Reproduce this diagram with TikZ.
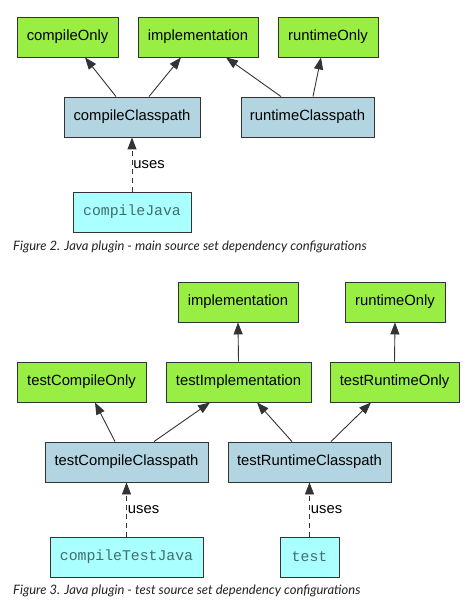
\documentclass[tikz,border=0pt]{standalone}
\usepackage{fontspec}
\setmainfont{Liberation Sans}
\newfontfamily\monofont{Liberation Mono}
\newfontfamily\capfont{Lato Italic}
\usetikzlibrary{arrows.meta}
\definecolor{cfgreen}{HTML}{99EE44}
\definecolor{cfblue}{HTML}{B2D5E1}
\definecolor{cfcyan}{HTML}{AAFFFF}
\definecolor{cfline}{HTML}{333333}
\definecolor{cfmono}{HTML}{3F6F6F}
\definecolor{cfcap}{HTML}{222222}
\tikzset{
  cfgbox/.style={draw=cfline, line width=0.9pt, rectangle, minimum height=40pt, inner sep=0pt, font=\fontsize{14.8}{16}\selectfont},
  depbox/.style={cfgbox, fill=cfgreen},
  cpbox/.style={cfgbox, fill=cfblue},
  taskbox/.style={cfgbox, fill=cfcyan, font=\monofont\fontsize{14.8}{16}\selectfont, text=cfmono},
  arr/.style={draw=cfline, line width=0.9pt, -{Triangle[length=12pt,width=9pt]}},
  usearr/.style={arr, dash pattern=on 5pt off 4pt},
  uselbl/.style={anchor=west, inner sep=0pt, font=\fontsize{14.8}{16}\selectfont},
  captxt/.style={anchor=west, inner sep=0pt, font=\capfont\fontsize{13}{15}\selectfont, text=cfcap}
}
\begin{document}
\begin{tikzpicture}[x=1pt,y=-1pt]
\useasboundingbox (0,0) rectangle (474,609);
% Figure 2
\node[depbox, minimum width=101pt] (co) at (67.5,37) {compileOnly};
\node[depbox, minimum width=120pt] (im) at (198,37) {implementation};
\node[depbox, minimum width=100pt] (ro) at (328,37) {runtimeOnly};
\node[cpbox, minimum width=136pt] (cc) at (132,117) {compileClasspath};
\node[cpbox, minimum width=133pt] (rc) at (307.5,117) {runtimeClasspath};
\node[taskbox, minimum width=118pt] (cj) at (132,212) {compileJava};
\draw[arr] ([xshift=-16pt]cc.north) -- ([xshift=17.5pt]co.south);
\draw[arr] ([xshift=17pt]cc.north) -- ([xshift=-17pt]im.south);
\draw[arr] ([xshift=-26.5pt]rc.north) -- ([xshift=28pt]im.south);
\draw[arr] ([xshift=5.5pt]rc.north) -- ([xshift=-7pt]ro.south);
\draw[usearr] (cj.north) -- (cc.south) node[uselbl, pos=0.5, xshift=1pt] (u1) {uses};
\node[captxt] (cap2) at (13,247) {Figure 2. Java plugin - main source set dependency configurations};
% Figure 3
\node[depbox, minimum width=120pt] (im3) at (238,302) {implementation};
\node[depbox, minimum width=100pt] (ro3) at (395,302) {runtimeOnly};
\node[depbox, minimum width=129pt] (tco) at (81.5,382) {testCompileOnly};
\node[depbox, minimum width=145pt] (tim) at (238.5,382) {testImplementation};
\node[depbox, minimum width=129pt] (tro) at (394.5,382) {testRuntimeOnly};
\node[cpbox, minimum width=163pt] (tcc) at (126.5,462) {testCompileClasspath};
\node[cpbox, minimum width=163pt] (trc) at (309.5,462) {testRuntimeClasspath};
\node[taskbox, minimum width=153pt] (ctj) at (126.5,557) {compileTestJava};
\node[taskbox, minimum width=59pt] (tst) at (309.5,557) {test};
\draw[arr] (tim.north) -- (im3.south);
\draw[arr] (tro.north) -- (ro3.south);
\draw[arr] ([xshift=-11.5pt]tcc.north) -- ([xshift=13.5pt]tco.south);
\draw[arr] ([xshift=27.5pt]tcc.north) -- ([xshift=-28.5pt]tim.south);
\draw[arr] ([xshift=-17.5pt]trc.north) -- ([xshift=18.5pt]tim.south);
\draw[arr] ([xshift=21.5pt]trc.north) -- ([xshift=-23.5pt]tro.south);
\draw[usearr] (ctj.north) -- (tcc.south) node[uselbl, pos=0.5, xshift=1pt] (u2) {uses};
\draw[usearr] (tst.north) -- (trc.south) node[uselbl, pos=0.5, xshift=1pt] (u3) {uses};
\node[captxt] (cap3) at (13,591) {Figure 3. Java plugin - test source set dependency configurations};
\end{tikzpicture}
\end{document}
